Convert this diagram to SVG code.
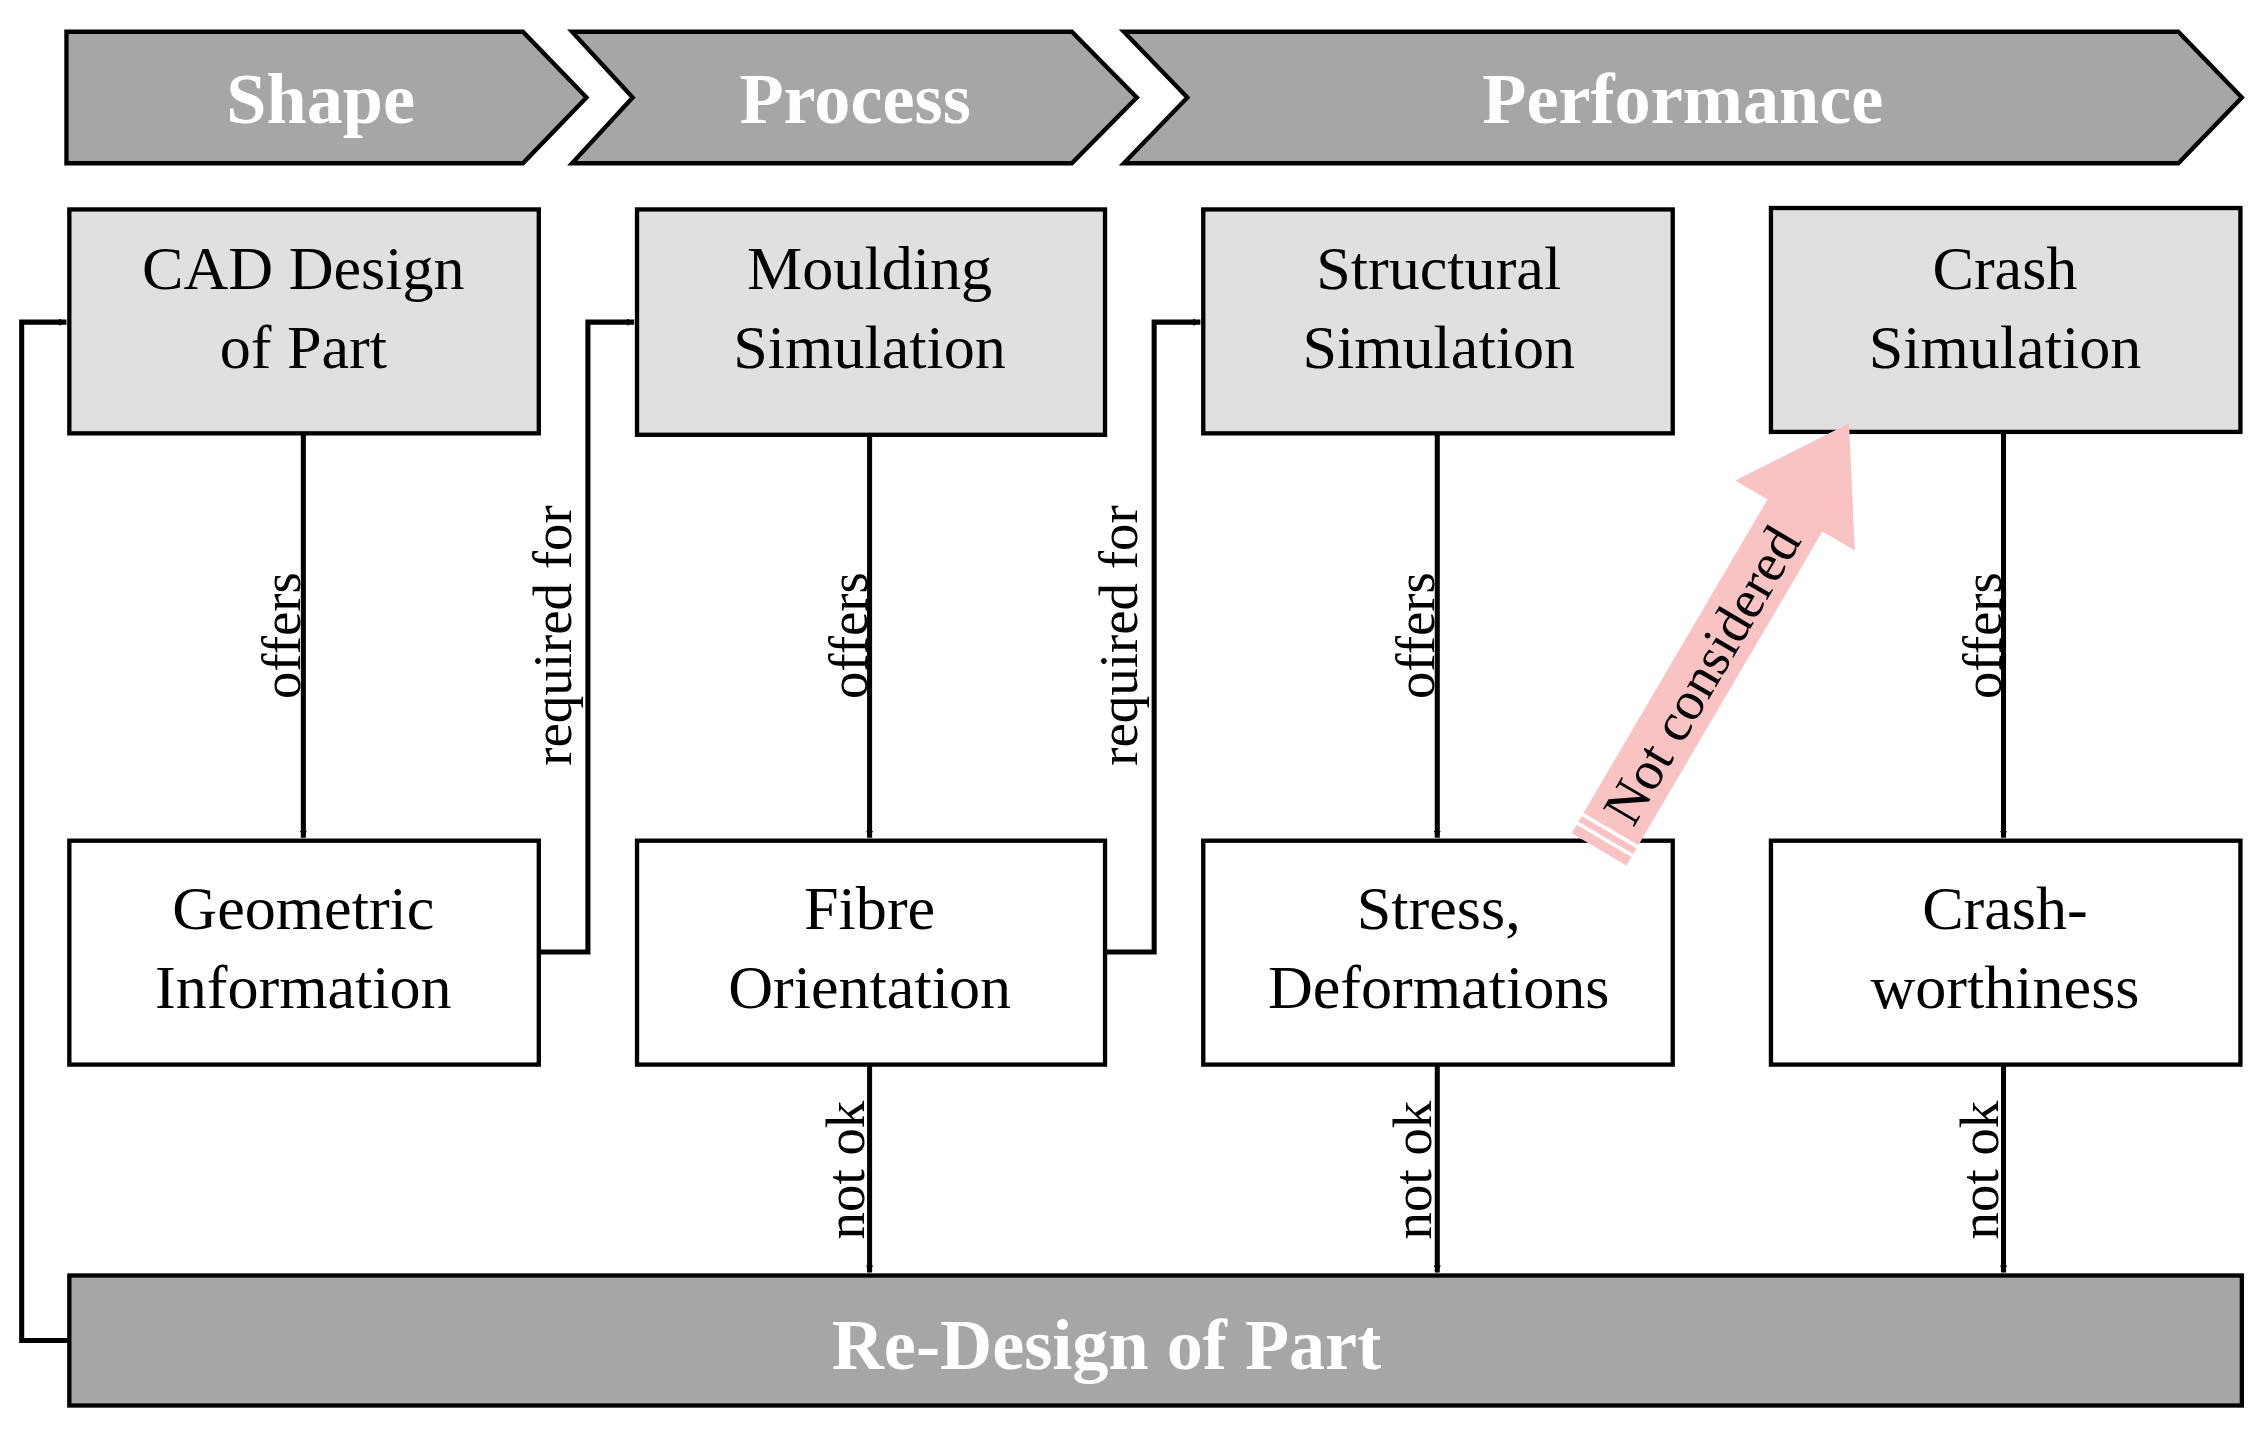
<svg xmlns="http://www.w3.org/2000/svg" width="2265" height="1434" viewBox="0 0 2265 1434">
<defs>
<marker id="ah" viewBox="0 0 10 10" refX="10" refY="5" markerWidth="5" markerHeight="5" orient="auto" markerUnits="userSpaceOnUse"><path d="M0,0 L10,5 L0,10 z" fill="#000"/></marker>
<style>
.chev{fill:#a6a6a6;stroke:#000;stroke-width:3}
.ct{font-family:"Liberation Serif",serif;font-weight:bold;font-size:50px;fill:#fff;text-anchor:middle}
.top{fill:#e0e0e0;stroke:#000;stroke-width:3}
.bot{fill:#fff;stroke:#000;stroke-width:3}
.bt{font-family:"Liberation Serif",serif;font-size:43px;fill:#000;text-anchor:middle}
.lbl{font-family:"Liberation Serif",serif;font-size:38px;fill:#000;text-anchor:middle}
.con{fill:none;stroke:#000;stroke-width:3.5}
</style>
</defs>
<rect width="2265" height="1434" fill="#fff"/>
<g transform="scale(1.4445)">
<g id="shape"><path class="chev" d="M46,22 L362,22 L406,67.5 L362,113 L46,113 Z"/><text class="ct" x="222" y="85">Shape</text></g>
<g id="process"><path class="chev" d="M396,22 L742,22 L787,67.5 L742,113 L396,113 L438,67.5 Z"/><text class="ct" x="592" y="85">Process</text></g>
<g id="performance"><path class="chev" d="M778,22 L1508,22 L1552,67.5 L1508,113 L778,113 L822,67.5 Z"/><text class="ct" x="1165" y="85">Performance</text></g>

<g id="cad"><rect class="top" x="48" y="145" width="325" height="155"/><text class="bt" x="210" y="200">CAD Design</text><text class="bt" x="210" y="255">of Part</text></g>
<g id="moulding"><rect class="top" x="441" y="145" width="324" height="156"/><text class="bt" x="602" y="200">Moulding</text><text class="bt" x="602" y="255">Simulation</text></g>
<g id="structural"><rect class="top" x="833" y="145" width="325" height="155"/><text class="bt" x="996" y="200">Structural</text><text class="bt" x="996" y="255">Simulation</text></g>
<g id="crash"><rect class="top" x="1226" y="144" width="325" height="155"/><text class="bt" x="1388" y="200">Crash</text><text class="bt" x="1388" y="255">Simulation</text></g>

<g id="geometric"><rect class="bot" x="48" y="582" width="325" height="155"/><text class="bt" x="210" y="643">Geometric</text><text class="bt" x="210" y="698">Information</text></g>
<g id="fibre"><rect class="bot" x="441" y="582" width="324" height="155"/><text class="bt" x="602" y="643">Fibre</text><text class="bt" x="602" y="698">Orientation</text></g>
<g id="stress"><rect class="bot" x="833" y="582" width="325" height="155"/><text class="bt" x="996" y="643">Stress,</text><text class="bt" x="996" y="698">Deformations</text></g>
<g id="crashworthiness"><rect class="bot" x="1226" y="582" width="325" height="155"/><text class="bt" x="1388" y="643">Crash-</text><text class="bt" x="1388" y="698">worthiness</text></g>

<g id="redesign"><rect class="chev" x="48" y="883" width="1504" height="90"/><text class="ct" x="766" y="948">Re-Design of Part</text></g>

<g id="connectors">
<path class="con" d="M210,300 V580" marker-end="url(#ah)"/>
<path class="con" d="M602,301 V580" marker-end="url(#ah)"/>
<path class="con" d="M995,300 V580" marker-end="url(#ah)"/>
<path class="con" d="M1387,299 V580" marker-end="url(#ah)"/>
<path class="con" d="M602,737 V881" marker-end="url(#ah)"/>
<path class="con" d="M995,737 V881" marker-end="url(#ah)"/>
<path class="con" d="M1387,737 V881" marker-end="url(#ah)"/>
<path class="con" d="M373,659 H407 V223 H439" marker-end="url(#ah)"/>
<path class="con" d="M765,659 H799 V223 H831" marker-end="url(#ah)"/>
<path class="con" d="M48,928 H15 V223 H46" marker-end="url(#ah)"/>
<text class="lbl" transform="translate(208,440) rotate(-90)">offers</text>
<text class="lbl" transform="translate(600,440) rotate(-90)">offers</text>
<text class="lbl" transform="translate(993,440) rotate(-90)">offers</text>
<text class="lbl" transform="translate(1385,440) rotate(-90)">offers</text>
<text class="lbl" transform="translate(395,440) rotate(-90)">required for</text>
<text class="lbl" transform="translate(787,440) rotate(-90)">required for</text>
<text class="lbl" transform="translate(598,810) rotate(-90)">not ok</text>
<text class="lbl" transform="translate(991,810) rotate(-90)">not ok</text>
<text class="lbl" transform="translate(1383,810) rotate(-90)">not ok</text>
</g>

<g id="not-considered" transform="translate(1107,588) rotate(-59.6)">
<path d="M0,-22 L268,-22 L268,-48 L342,0 L268,48 L268,22 L0,22 Z" fill="#f9c3c3"/>
<line x1="8" y1="-22" x2="8" y2="22" stroke="#fff" stroke-width="2.5"/>
<line x1="15" y1="-22" x2="15" y2="22" stroke="#fff" stroke-width="2.5"/>
<text x="140" y="13" font-family="Liberation Serif, serif" font-size="38" text-anchor="middle" fill="#000">Not considered</text>
</g>
</g>
</svg>
